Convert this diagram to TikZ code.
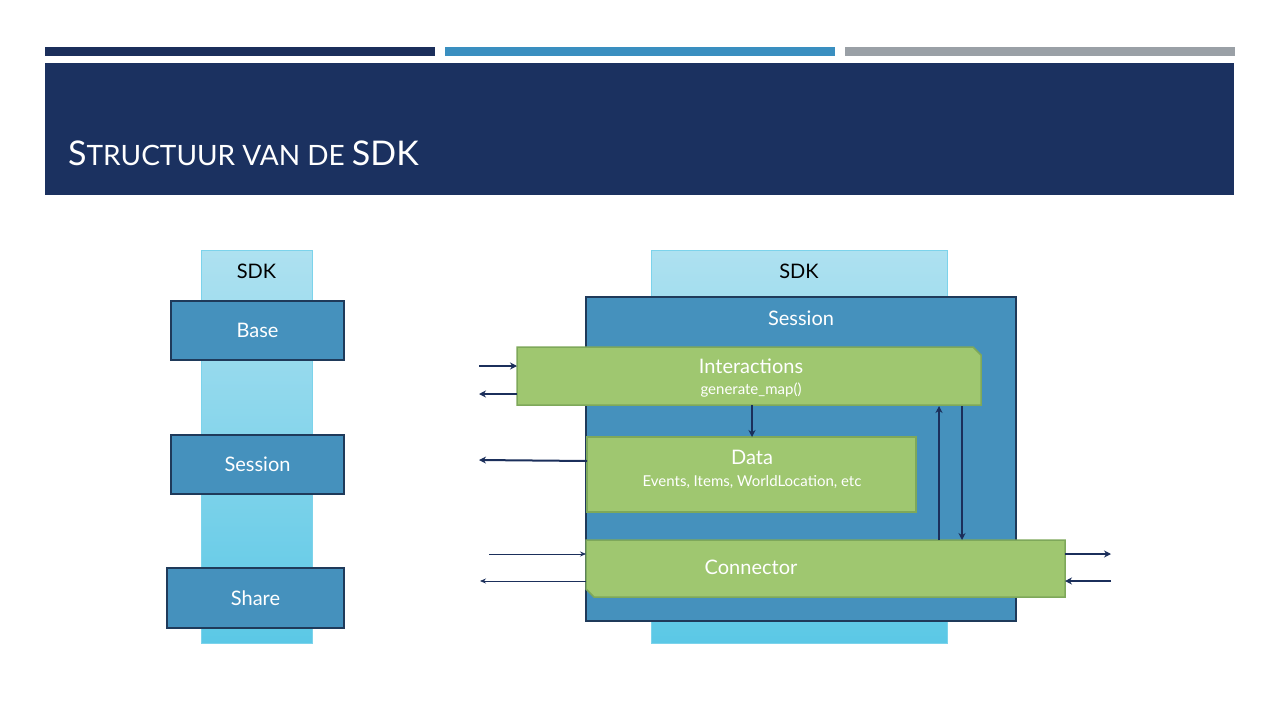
\documentclass[tikz,border=0pt]{standalone}
\usepackage{fontspec}
\setmainfont{Lato}
\begin{document}
\begin{tikzpicture}[x=1pt,y=-1pt,
  blue/.style={fill=boxblue,draw=darkline,line width=1.2pt},
  green/.style={fill=grn,draw=grnline,line width=1.5pt},
  lbl/.style={text=white,font=\fontsize{20}{24}\selectfont},
  sub/.style={text=white,font=\fontsize{15}{18}\selectfont},
  arr/.style={draw=navy,line width=2pt,-{Stealth[length=7pt,width=7pt]}},
  thin/.style={draw=navy,line width=0.8pt,-{Stealth[length=6pt,width=5pt]}}]
\definecolor{navy}{HTML}{1B2F5B}
\definecolor{title}{HTML}{1B3160}
\definecolor{midblue}{HTML}{3A8FC0}
\definecolor{grey}{HTML}{9AA0A6}
\definecolor{boxblue}{HTML}{4591BD}
\definecolor{darkline}{HTML}{1F3A5A}
\definecolor{grn}{HTML}{9FC770}
\definecolor{grnline}{HTML}{7EA85A}
\definecolor{cyantop}{HTML}{AEE1F0}
\definecolor{cyanbot}{HTML}{5BC8E6}
\usetikzlibrary{arrows.meta}
\useasboundingbox (0,0) rectangle (1280,720);
\fill[white] (0,0) rectangle (1280,720);
\fill[navy] (45,47) rectangle (435,56);
\fill[midblue] (445,47) rectangle (835,56);
\fill[grey] (845,47) rectangle (1235,56);
\fill[title] (45,63) rectangle (1234,195);
\node[anchor=base west,text=white,inner sep=0] (t) at (68,165)
  {\fontsize{34}{40}\selectfont S\fontsize{28}{34}\selectfont TRUCTUUR VAN DE \fontsize{34}{40}\selectfont SDK};
% left column
\shade[top color=cyantop,bottom color=cyanbot,draw=cyanbot!80!white] (201,250) rectangle (312,643);
\node[text=black,font=\fontsize{20}{24}\selectfont] (sdk1) at (256.5,271) {SDK};
\node[blue,lbl,minimum width=173pt,minimum height=59pt] (base) at (257.5,330.5) {Base};
\node[blue,lbl,minimum width=173pt,minimum height=59pt] (sess1) at (257.5,464.5) {Session};
\node[blue,lbl,minimum width=177pt,minimum height=60pt] (share) at (255.5,598) {Share};
% right
\shade[top color=cyantop,bottom color=cyanbot,draw=cyanbot!80!white] (651,250) rectangle (947,643);
\node[text=black,font=\fontsize{20}{24}\selectfont] (sdk2) at (799,271) {SDK};
\draw[blue] (586,297) rectangle (1016,621);
\node[lbl] (sess2) at (801,318) {Session};
\draw[green] (517,347) -- (973,347) -- (981,355) -- (981,405) -- (517,405) -- cycle;
\node[lbl] (inter) at (751,366) {Interactions};
\node[sub] (gen) at (751,390) {generate\_map()};
\draw[green] (587,437) rectangle (916,512);
\node[lbl] (data) at (752,457) {Data};
\node[sub] (ev) at (752,482) {Events, Items, WorldLocation, etc};
\draw[green] (586,540) -- (1065,540) -- (1065,597) -- (594,597) -- (586,589) -- cycle;
\node[lbl] (conn) at (751,567) {Connector};
\coordinate (a1s) at (479,366); \coordinate (a1e) at (517,366);
\coordinate (a2s) at (517,394); \coordinate (a2e) at (479,394);
\draw[arr] (a1s) -- (a1e);
\draw[arr] (a2s) -- (a2e);
\coordinate (d1) at (752,405); \coordinate (d2) at (752,437);
\draw[arr,line width=1.5pt] (d1) -- (d2);
\coordinate (d3) at (587,461); \coordinate (d4) at (479,460);
\draw[arr] (d3) -- (d4);
\coordinate (u1) at (939,540); \coordinate (u2) at (939,406);
\draw[arr,line width=1.5pt] (u1) -- (u2);
\coordinate (v1) at (962,406); \coordinate (v2) at (962,540);
\draw[arr,line width=1.5pt] (v1) -- (v2);
\coordinate (c1) at (489,554); \coordinate (c2) at (586,554);
\draw[thin] (c1) -- (c2);
\coordinate (c3) at (586,581); \coordinate (c4) at (480,581);
\draw[thin] (c3) -- (c4);
\coordinate (r1) at (1065,554); \coordinate (r2) at (1111,554);
\draw[arr] (r1) -- (r2);
\coordinate (r3) at (1111,581); \coordinate (r4) at (1065,581);
\draw[arr] (r3) -- (r4);
\end{tikzpicture}
\end{document}
